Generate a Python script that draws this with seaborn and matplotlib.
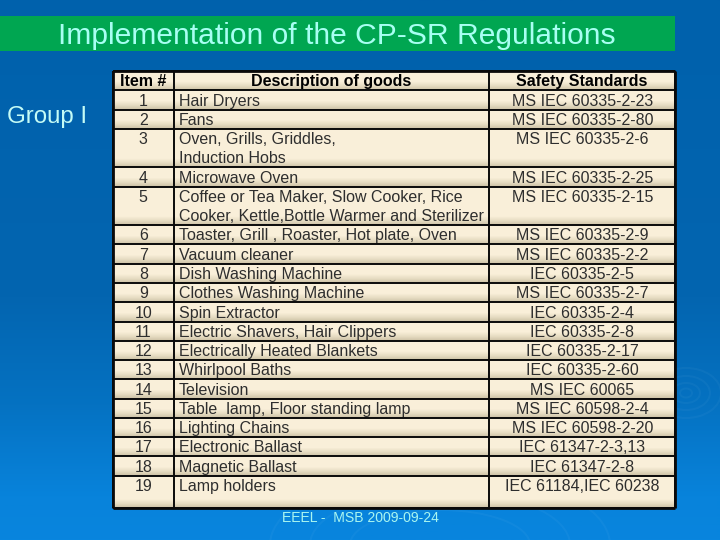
import numpy as np
import matplotlib
matplotlib.use("Agg")
import matplotlib.pyplot as plt
from matplotlib.colors import LinearSegmentedColormap
from matplotlib.patches import Arc, Rectangle
import seaborn as sns

TITLE = "Implementation of the CP-SR Regulations"
GROUP = "Group I"
FOOTER = "EEEL -  MSB 2009-09-24"
HEADERS = ["Item #", "Description of goods", "Safety Standards"]
ITEMS = [str(i) for i in range(1, 20)]
DESCRIPTIONS = [
    "Hair Dryers", "Fans", "Oven, Grills, Griddles,\nInduction Hobs", "Microwave Oven",
    "Coffee or Tea Maker, Slow Cooker, Rice\nCooker, Kettle,Bottle Warmer and Sterilizer",
    "Toaster, Grill , Roaster, Hot plate, Oven", "Vacuum cleaner", "Dish Washing Machine",
    "Clothes Washing Machine", "Spin Extractor", "Electric Shavers, Hair Clippers",
    "Electrically Heated Blankets", "Whirlpool Baths", "Television",
    "Table  lamp, Floor standing lamp", "Lighting Chains", "Electronic Ballast",
    "Magnetic Ballast", "Lamp holders",
]
STANDARDS = [
    "MS IEC 60335-2-23", "MS IEC 60335-2-80", "MS IEC 60335-2-6", "MS IEC 60335-2-25",
    "MS IEC 60335-2-15", "MS IEC 60335-2-9", "MS IEC 60335-2-2", "IEC 60335-2-5",
    "MS IEC 60335-2-7", "IEC 60335-2-4", "IEC 60335-2-8", "IEC 60335-2-17",
    "IEC 60335-2-60", "MS IEC 60065", "MS IEC 60598-2-4", "MS IEC 60598-2-20",
    "IEC 61347-2-3,13", "IEC 61347-2-8", "IEC 61184,IEC 60238",
]

sns.set_theme(style="white", rc={"font.family": ["Liberation Sans", "DejaVu Sans"]})
W, H = 720, 540
LINE_H = 19.27
TOP, BOTTOM = 71.0, 508.0
X0, X1, X2, X3 = 113.0, 173.5, 488.5, 675.0

fig = plt.figure(figsize=(7.2, 5.4), dpi=100)

# Slide background
bg = fig.add_axes([0, 0, 1, 1])
bg.axis("off")
grad = np.linspace(0, 1, 256)[:, None]
blue = LinearSegmentedColormap.from_list(
    "blue", [(0, "#0061AC"), (0.55, "#0365B0"), (0.75, "#0572C2"), (0.92, "#0883DB"), (1, "#0885DE")])
bg.imshow(grad, cmap=blue, extent=(0, W, H, 0), aspect="auto", zorder=0)
for cx, cy, w, h in [(686, 393, 12, 9), (686, 393, 28, 20), (686, 393, 48, 34), (686, 393, 70, 50),
                     (440, 545, 180, 70), (440, 545, 260, 110), (440, 545, 340, 150)]:
    bg.add_patch(Arc((cx, cy), w, h, color="white", alpha=0.035, lw=1.5, zorder=1))
bg.set_xlim(0, W); bg.set_ylim(H, 0)

# Row geometry, in text lines
line_counts = [1] + [d.count("\n") + 1 for d in DESCRIPTIONS]
edges = [TOP]
for n in line_counts:
    edges.append(edges[-1] + n * LINE_H)
edges[-1] = BOTTOM

# Beige cell shading through a seaborn heatmap, one row per pixel
n_px = int(BOTTOM - TOP)
shade = np.zeros((n_px, 2))
ys = TOP + np.arange(n_px) + 0.5
for a, b in zip(edges[:-1], edges[1:]):
    m = (ys >= a) & (ys < b)
    shade[m, :] = np.minimum(1, (b - ys[m]) / 9.0)[:, None]
beige = LinearSegmentedColormap.from_list("beige", ["#CBC0A4", "#E6DCC2", "#F9EFD9"])
tab = fig.add_axes([X0 / W, 1 - BOTTOM / H, (X3 - X0) / W, (BOTTOM - TOP) / H], zorder=2)
sns.heatmap(shade, ax=tab, cmap=beige, vmin=0, vmax=1, cbar=False,
            xticklabels=False, yticklabels=False, rasterized=True)

# Overlay for text and rules
ov = fig.add_axes([0, 0, 1, 1], zorder=3)
ov.set_xlim(0, W); ov.set_ylim(H, 0); ov.axis("off"); ov.patch.set_alpha(0)
ov.add_patch(Rectangle((0, 16), 675, 35, color="#00A651", lw=0))
TEXTC = "#A8FFF2"
ov.text(337, 43.6, TITLE, ha="center", va="baseline", fontsize=21.6, color=TEXTC)
ov.text(7, 122.5, GROUP, ha="left", va="baseline", fontsize=17.3, color="#C4FBF6")
ov.text(360, 521.8, FOOTER, ha="center", va="baseline", fontsize=10.1, color="#A8F5F0")

RULE = "#0A0A0A"
ov.hlines(edges, X0, X3, color=RULE, lw=1.4)
ov.vlines([X0, X1, X2, X3], TOP, BOTTOM, color=RULE, lw=1.4)
ov.hlines([TOP, BOTTOM], X0, X3, color=RULE, lw=2.0)
ov.vlines([X0, X3], TOP, BOTTOM, color=RULE, lw=2.0)

FS = 11.55
BASE = 15.3
ink = "#2E2E2E"
for x, s in zip([(X0 + X1) / 2, (X1 + X2) / 2, (X2 + X3) / 2], HEADERS):
    ov.text(x, TOP + BASE, s, ha="center", va="baseline", fontsize=FS, fontweight="bold", color="black")
for i, (it, d, s) in enumerate(zip(ITEMS, DESCRIPTIONS, STANDARDS)):
    y = edges[i + 1] + BASE
    ov.text((X0 + X1) / 2, y, it, ha="center", va="baseline", fontsize=FS, color=ink)
    ov.text((X2 + X3) / 2 + 0.5, y, s, ha="center", va="baseline", fontsize=FS, color=ink)
    for j, part in enumerate(d.split("\n")):
        ov.text(X1 + 5.5, y + j * LINE_H, part, ha="left", va="baseline", fontsize=FS, color=ink)

fig.savefig("out.png", dpi=100)
